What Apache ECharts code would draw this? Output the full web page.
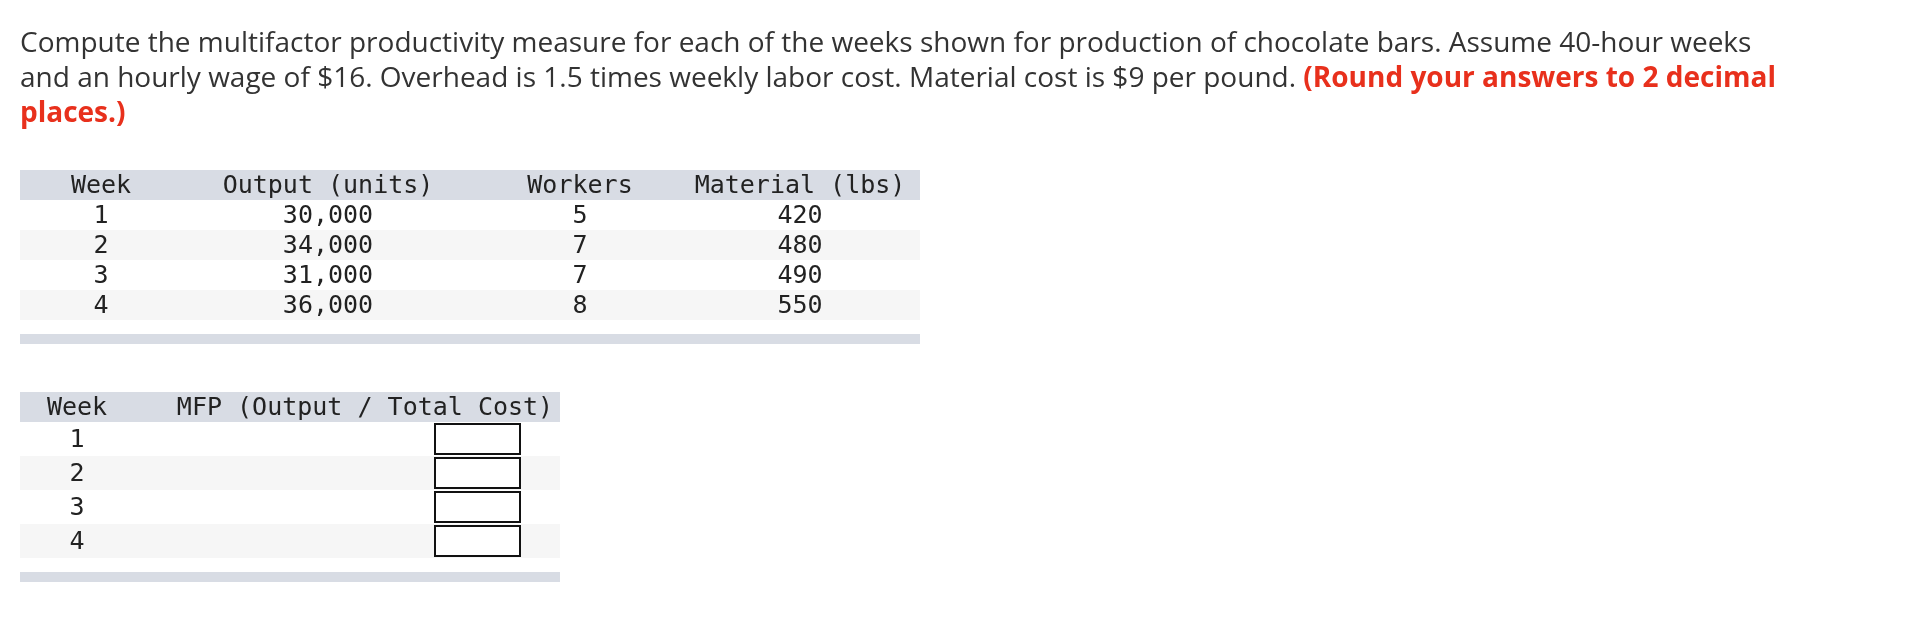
<!DOCTYPE html>
<html>
<head>
<meta charset="utf-8">
<script src="https://cdn.jsdelivr.net/npm/echarts@6/dist/echarts.min.js"></script>
<style>html,body{margin:0;padding:0;background:#fff}#main{width:1906px;height:620px}</style>
</head>
<body>
<div id="main"></div>
<script>
// problem data
var headers = ['Week', 'Output (units)', 'Workers', 'Material (lbs)'];
var weeks = ['1', '2', '3', '4'];
var output = ['30,000', '34,000', '31,000', '36,000'];
var workers = ['5', '7', '7', '8'];
var material = ['420', '480', '490', '550'];
var headers2 = ['Week', 'MFP (Output / Total Cost)'];

var chart = echarts.init(document.getElementById('main'));
var mono = '"DejaVu Sans Mono", monospace';
var sans = '"Open Sans", sans-serif';
var g = [];

function txt(x, y, s, align, font, size, color) {
    g.push({type: 'text', x: x, y: y, style: {
        text: s, x: 0, y: 0, align: align || 'center', verticalAlign: 'middle',
        font: (size || 25) + 'px ' + (font || mono), fill: color || '#222'
    }});
}
function rect(x, y, w, h, fill, stroke) {
    g.push({type: 'rect', shape: {x: x, y: y, width: w, height: h},
        style: {fill: fill, stroke: stroke || null, lineWidth: stroke ? 2 : 0}});
}

// question text
g.push({type: 'text', x: 20, y: 30, style: {
    text: 'Compute the multifactor productivity measure for each of the weeks shown for production of chocolate bars. Assume 40-hour weeks',
    font: '28px ' + sans, fill: '#333'}});
g.push({type: 'text', x: 20, y: 65, style: {
    text: '{n|and an hourly wage of $16. Overhead is 1.5 times weekly labor cost. Material cost is $9 per pound. }{r|(Round your answers to 2 decimal}',
    rich: {
        n: {fontFamily: sans, fontSize: 28, fill: '#333'},
        r: {fontFamily: sans, fontSize: 28, fill: '#e8301c', fontWeight: 'bold'}
    }}});
g.push({type: 'text', x: 20, y: 100, style: {
    text: 'places.)', font: 'bold 28px ' + sans, fill: '#e8301c'}});

// table 1
var cx = [101, 328, 580, 800];
rect(20, 170, 900, 30, '#d8dce4');
headers.forEach(function (h, i) { txt(cx[i], 186, h); });
weeks.forEach(function (w, r) {
    var y = 200 + r * 30;
    if (r % 2 === 1) rect(20, y, 900, 30, '#f6f6f6');
    var row = [w, output[r], workers[r], material[r]];
    row.forEach(function (v, i) { txt(cx[i], y + 16, v); });
});
rect(20, 334, 900, 10, '#d8dce4');

// table 2
rect(20, 392, 540, 30, '#d8dce4');
txt(77, 408, headers2[0]);
txt(365, 408, headers2[1]);
weeks.forEach(function (w, r) {
    var y = 422 + r * 34;
    if (r % 2 === 1) rect(20, y, 540, 34, '#f6f6f6');
    txt(77, y + 18, w);
    rect(435, y + 2, 85, 30, '#fff', '#111');
});
rect(20, 572, 540, 10, '#d8dce4');

chart.setOption({animation: false, graphic: {elements: g}});
</script>
</body>
</html>
